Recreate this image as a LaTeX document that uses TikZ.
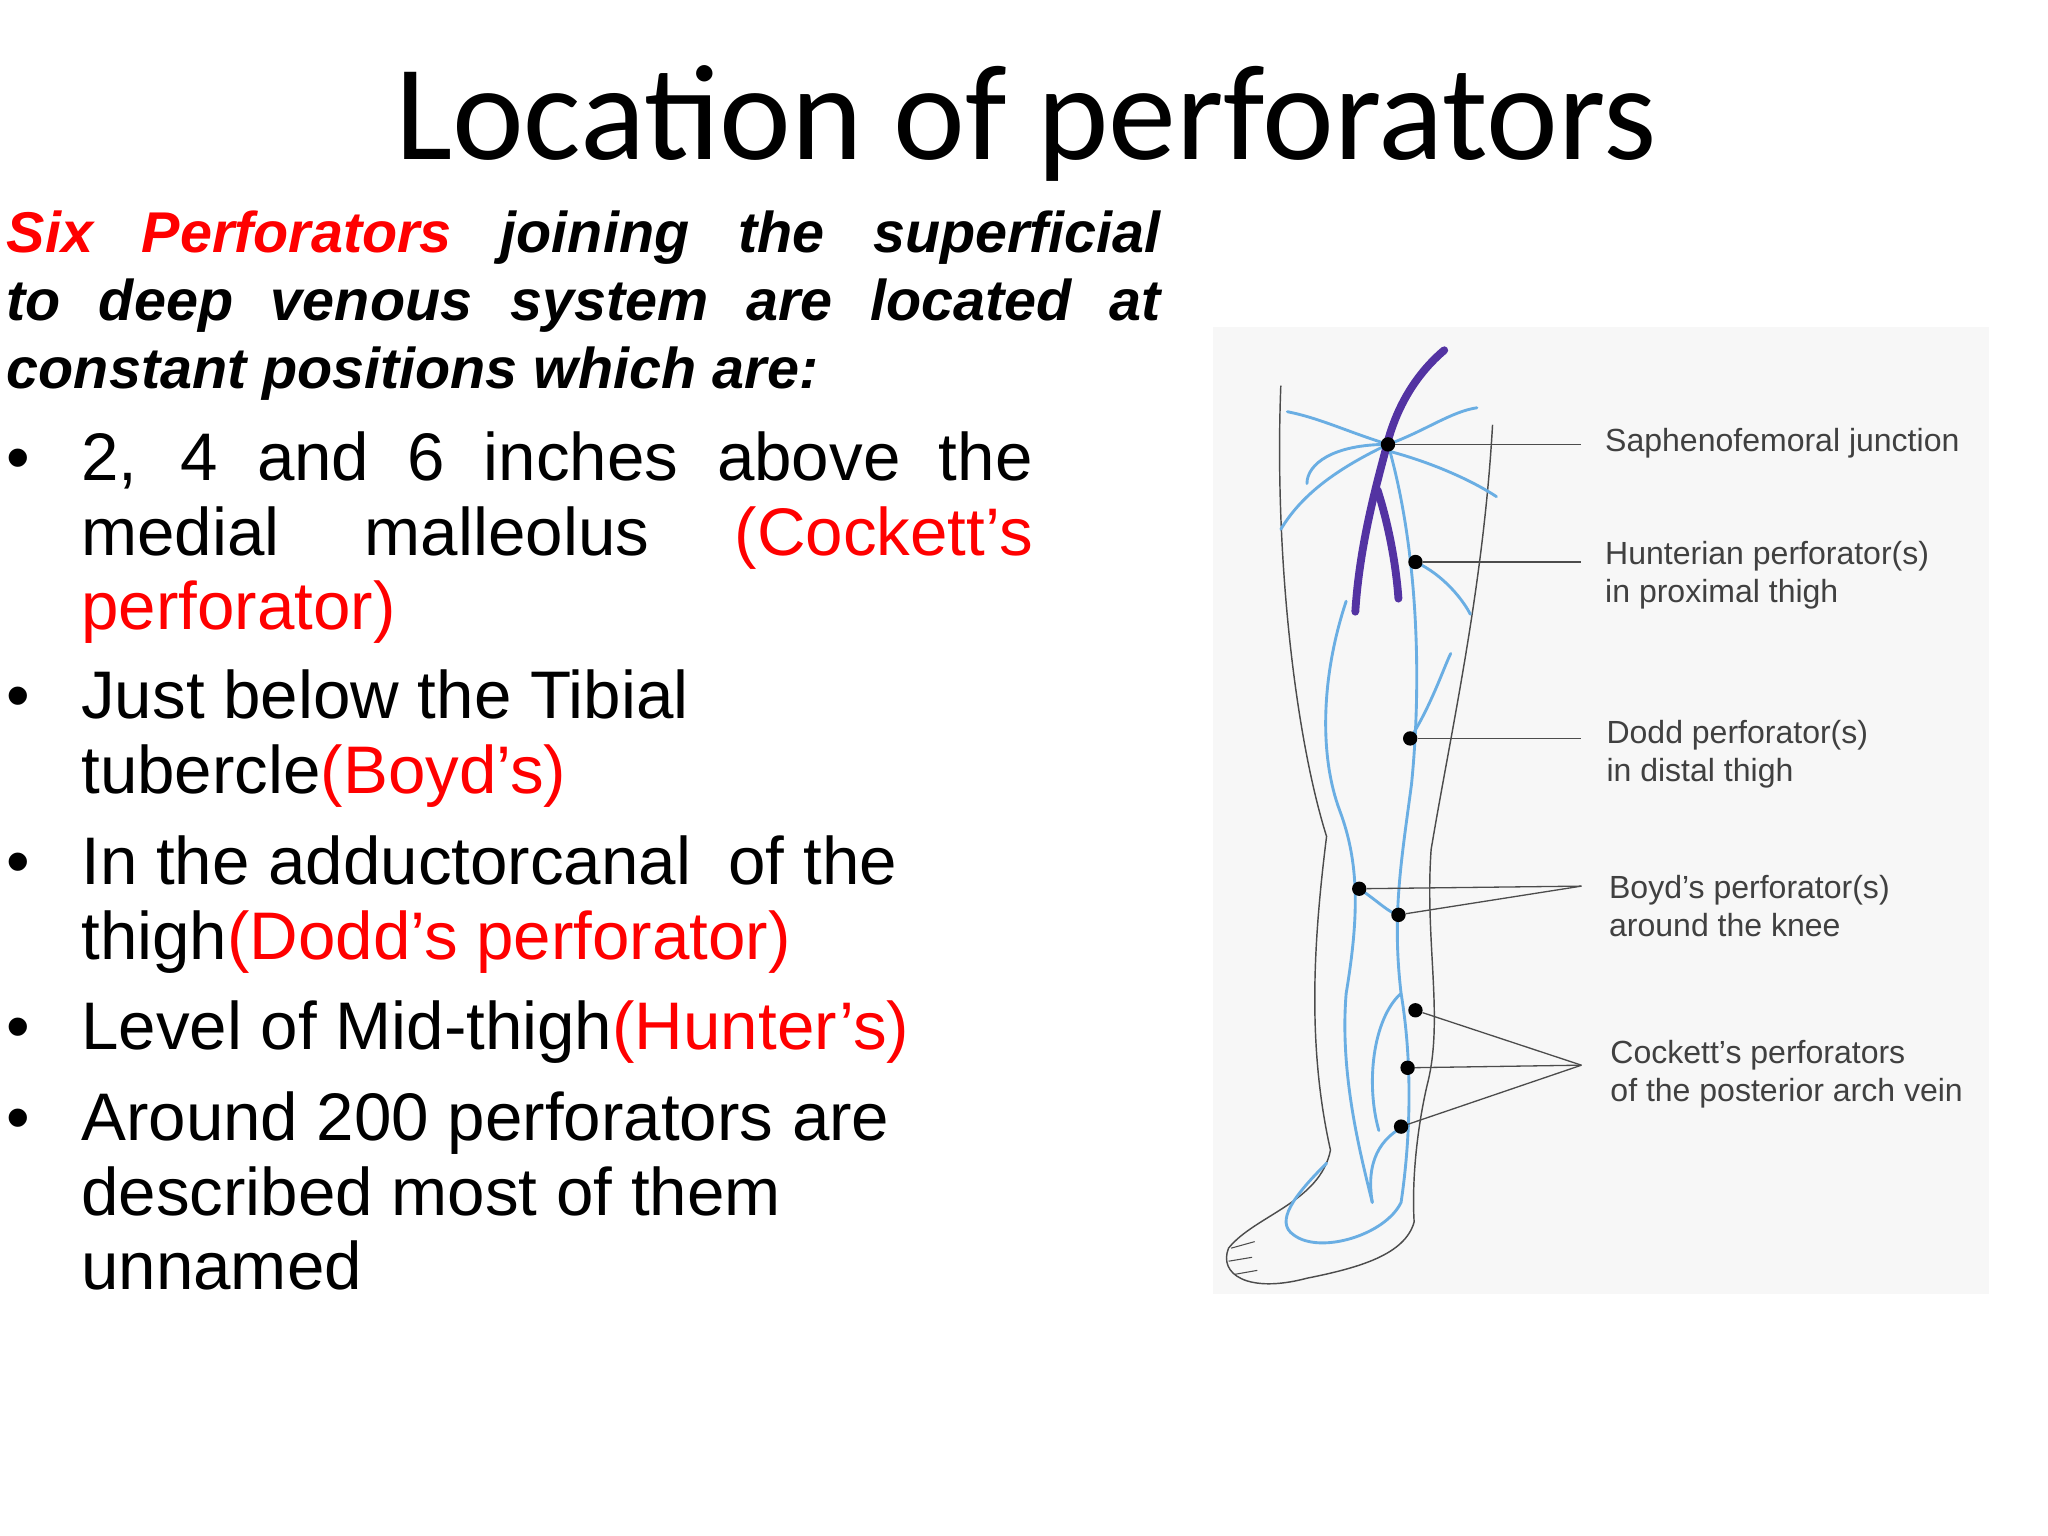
\documentclass[tikz,border=0pt]{standalone}
\usepackage{fontspec}
\setmainfont{Liberation Sans}
\newfontfamily\titlefont{Carlito}
\begin{document}
\begin{tikzpicture}[x=1pt,y=-1pt,
  hd/.style={anchor=base west,inner sep=0,font=\fontsize{44}{52}\selectfont\bfseries\itshape},
  bl/.style={anchor=base west,inner sep=0,font=\fontsize{51.5}{57}\selectfont},
  lab/.style={anchor=west,inner sep=0,align=left,text=black!75,font=\fontsize{24.5}{29}\selectfont},
  vein/.style={draw=cyan!70!blue!60,line width=2.2pt,line cap=round},
  skin/.style={draw=black!70,line width=1.1pt},
  pt/.style={circle,fill=black,inner sep=0,minimum size=11pt},
  ld/.style={draw=black!70,line width=1pt}]
\useasboundingbox (0,0) rectangle (1567,1175);
\fill[white] (0,0) rectangle (1567,1175);
\node[anchor=base,inner sep=0,font=\titlefont\fontsize{104}{110}\selectfont] (title) at (785,122) {Location of perforators};
\node[hd] (h1) at (5,193) {\makebox[883pt][s]{\textcolor{red}{Six Perforators} joining the superficial}};
\node[hd] (h2) at (5,245) {\makebox[883pt][s]{to deep venous system are located at}};
\node[hd] (h3) at (5,297) {constant positions which are:};
\foreach \y in {368,550,677,803,873}{\node[bl] at (5,\y) {•};}
\node[bl] (a1) at (62,368) {\makebox[728pt][s]{2, 4 and 6 inches above the}};
\node[bl] (a2) at (62,425) {\makebox[728pt][s]{medial malleolus \textcolor{red}{(Cockett’s}}};
\node[bl] (a3) at (62,482) {\textcolor{red}{perforator)}};
\node[bl] (b1) at (62,550) {Just below the Tibial};
\node[bl] (b2) at (62,607) {tubercle\textcolor{red}{(Boyd’s)}};
\node[bl] (c1) at (62,677) {In the adductorcanal\ \ of the};
\node[bl] (c2) at (62,734) {thigh\textcolor{red}{(Dodd’s perforator)}};
\node[bl] (d1) at (62,803) {Level of Mid-thigh\textcolor{red}{(Hunter’s)}};
\node[bl] (e1) at (62,873) {Around 200 perforators are};
\node[bl] (e2) at (62,930) {described most of them};
\node[bl] (e3) at (62,987) {unnamed};
% figure
\fill[black!3] (928,250) rectangle (1522,990);
% skin outline
\draw[skin] (980,295) .. controls (975,420) and (990,560) .. (1015,640)
  .. controls (1005,720) and (1000,800) .. (1018,880)
  .. controls (1010,920) and (960,930) .. (940,955)
  .. controls (932,975) and (955,990) .. (1000,978)
  .. controls (1040,970) and (1075,960) .. (1082,935)
  .. controls (1080,900) and (1085,860) .. (1092,830)
  .. controls (1105,780) and (1090,720) .. (1095,650)
  .. controls (1110,560) and (1135,450) .. (1142,325);
\draw[skin,line width=0.8pt] (942,955) -- (960,950) (940,965) -- (958,962) (945,975) -- (962,972);
% veins
\draw[vein] (1062,340) .. controls (1085,420) and (1088,520) .. (1080,600)
  .. controls (1072,660) and (1065,700) .. (1072,760)
  .. controls (1082,820) and (1078,880) .. (1072,920)
  .. controls (1060,945) and (1010,960) .. (990,945)
  .. controls (975,935) and (990,915) .. (1015,890);
\draw[vein] (985,315) .. controls (1010,320) and (1030,330) .. (1062,340) .. controls (1090,330) and (1110,315) .. (1130,312);
\draw[vein] (1062,340) .. controls (1020,360) and (995,380) .. (980,405);
\draw[vein] (1062,345) .. controls (1100,355) and (1130,370) .. (1145,380);
\draw[vein] (1062,340) .. controls (1020,340) and (1000,355) .. (1000,370);
\draw[vein] (1083,430) .. controls (1105,440) and (1120,460) .. (1125,470);
\draw[vein] (1030,460) .. controls (1010,520) and (1010,580) .. (1025,620)
  .. controls (1040,660) and (1040,700) .. (1030,760) .. controls (1025,820) and (1040,880) .. (1050,920);
\draw[vein] (1040,680) .. controls (1055,690) and (1062,698) .. (1070,700);
\draw[vein] (1078,860) .. controls (1055,870) and (1045,890) .. (1050,920);
\draw[vein] (1072,760) .. controls (1050,780) and (1045,830) .. (1055,865);
\draw[vein] (1079,565) .. controls (1095,540) and (1105,510) .. (1110,500);
% deep (purple) vein
\draw[draw=blue!55!violet!70!black!80,line width=6pt,line cap=round]
  (1105,268) .. controls (1085,285) and (1068,310) .. (1060,345)
  .. controls (1052,375) and (1040,420) .. (1037,468);
\draw[draw=blue!55!violet!70!black!80,line width=6pt,line cap=round]
  (1054,375) .. controls (1062,400) and (1068,430) .. (1070,458);
% dots
\node[pt] (p1) at (1062,340) {};
\node[pt] (p2) at (1083,430) {};
\node[pt] (p3) at (1079,565) {};
\node[pt] (p4) at (1040,680) {};
\node[pt] (p5) at (1070,700) {};
\node[pt] (p6) at (1083,773) {};
\node[pt] (p7) at (1077,817) {};
\node[pt] (p8) at (1072,862) {};
\coordinate (q1) at (1210,340);
\coordinate (q2) at (1210,430);
\coordinate (q3) at (1210,565);
\coordinate (q4) at (1210,678);
\coordinate (q5) at (1210,815);
\draw[ld] (p1) -- (q1); \draw[ld] (p2) -- (q2); \draw[ld] (p3) -- (q3);
\draw[ld] (p4) -- (q4); \draw[ld] (p5) -- (q4);
\draw[ld] (p6) -- (q5); \draw[ld] (p7) -- (q5); \draw[ld] (p8) -- (q5);
\node[lab] (l1) at (1228,339) {Saphenofemoral junction};
\node[lab] (l2) at (1228,440) {Hunterian perforator(s)\\in proximal thigh};
\node[lab] (l3) at (1229,577) {Dodd perforator(s)\\in distal thigh};
\node[lab] (l4) at (1231,693) {Boyd's perforator(s)\\around the knee};
\node[lab] (l5) at (1232,822) {Cockett's perforators\\of the posterior arch vein};
\end{tikzpicture}
\end{document}
